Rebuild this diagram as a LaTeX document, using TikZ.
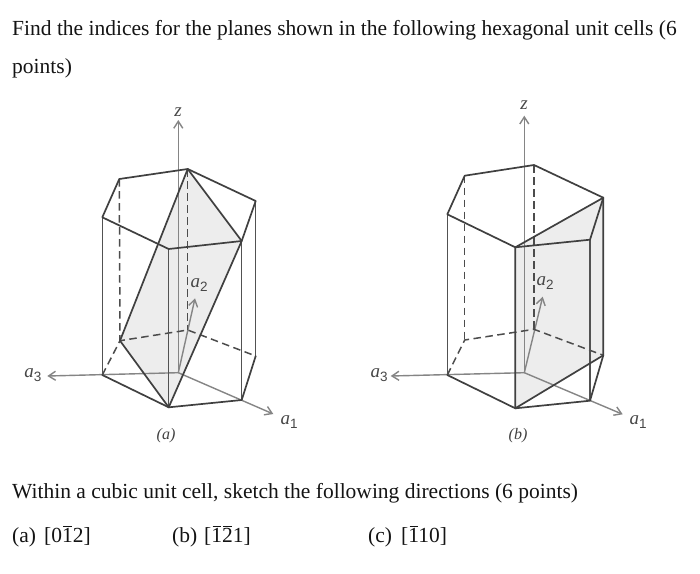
\documentclass[tikz,border=0pt]{standalone}
\usepackage{fontspec}
\setmainfont{Liberation Serif}
\newfontfamily\labsans{Liberation Sans}
\newcommand{\obar}[1]{\leavevmode\rlap{\kern1.2pt\raisebox{15.5pt}{\rule{8.4pt}{1pt}}}#1}
\newcommand{\axlab}[2]{{\itshape #1}\raisebox{-3.5pt}{\labsans\fontsize{13.5}{13.5}\selectfont #2}}
\usetikzlibrary{arrows.meta}
\tikzset{
  x=1pt,y=-1pt,
  edge/.style={draw=black!75,line width=1.7pt,line join=round,line cap=round},
  thin edge/.style={draw=black!68,line width=1.35pt},
  hidden/.style={draw=black!70,line width=1.5pt,dash pattern=on 7.5pt off 4.5pt},
  axis/.style={draw=black!48,line width=1.4pt,-{Straight Barb[length=7pt,width=9pt]}},
  plane/.style={fill=black!7},
  txt/.style={anchor=base west,inner sep=0pt,text=black!92,font=\fontsize{21.5}{21.5}\selectfont},
  lab/.style={inner sep=0pt,text=black!72,font=\fontsize{19}{19}\selectfont},
  cap lab/.style={inner sep=0pt,text=black!75,font=\fontsize{16}{16}\selectfont\itshape}
}
\begin{document}
\begin{tikzpicture}
\useasboundingbox (0,0) rectangle (700,573);
\fill[white] (0,0) rectangle (700,573);

% ---- text
\node[txt] (t1) at (12,35) {Find the indices for the planes shown in the following hexagonal unit cells (6};
\node[txt] (t2) at (12,73) {points)};
\node[txt] (t3) at (12,498) {Within a cubic unit cell, sketch the following directions (6 points)};
\node[txt] (qa) at (12,542) {(a)};
\node[txt] (da) at (44,542) {[0\obar{1}2]};
\node[txt] (qb) at (172,542) {(b)};
\node[txt] (db) at (204,542) {[\obar{1}\obar{2}1]};
\node[txt] (qc) at (368,542) {(c)};
\node[txt] (dc) at (401,542) {[\obar{1}10]};

% ---- cell (a)
\coordinate (At1) at (187.7,169);
\coordinate (At2) at (119.3,179);
\coordinate (At3) at (102.3,217.3);
\coordinate (At4) at (168.7,249);
\coordinate (At5) at (241.7,241);
\coordinate (At6) at (255.7,201);
\coordinate (Ab1) at (187.7,330);
\coordinate (Ab2) at (120,340.7);
\coordinate (Ab3) at (102.3,375);
\coordinate (Ab4) at (168.7,407.3);
\coordinate (Ab5) at (241.7,400);
\coordinate (Ab6) at (255.7,356);
\coordinate (AO) at (178.3,372.7);
\coordinate (Az) at (178.3,120);
\coordinate (Aa3) at (47.3,376);
\coordinate (Aa1) at (273.3,414);
\coordinate (Aa2) at (195,298.3);

\path[plane] (At1) -- (At5) -- (Ab4) -- (Ab2) -- cycle;
\draw[axis] (AO) -- (Az);
\draw[axis] (AO) -- (Aa3);
\draw[axis] (AO) -- (Aa1);
\draw[axis] (AO) -- (Aa2);
\draw[hidden] (At2) -- (Ab2);
\draw[hidden] (At1) -- (Ab1);
\draw[hidden] (Ab3) -- (Ab2) -- (Ab1) -- (Ab6);
\draw[thin edge] (At3) -- (Ab3);
\draw[thin edge] (At4) -- (Ab4);
\draw[thin edge] (At5) -- (Ab5);
\draw[thin edge] (At6) -- (Ab6);
\draw[edge] (At1) -- (At2) -- (At3) -- (At4) -- (At5) -- (At6) -- cycle;
\draw[edge] (Ab3) -- (Ab4) -- (Ab5) -- (Ab6);
\draw[edge] (At1) -- (At5) -- (Ab4) -- (Ab2) -- cycle;

\node[lab] (Lz) at (178,112) {\itshape z};
\node[lab] (L3) at (33,375) {\axlab{a}{3}};
\node[lab] (L1) at (289,422) {\axlab{a}{1}};
\node[lab] (L2) at (199,285) {\axlab{a}{2}};
\node[cap lab] (Lc) at (166,436) {(a)};

% ---- cell (b)
\coordinate (Bt1) at (534,165);
\coordinate (Bt2) at (464.7,175.7);
\coordinate (Bt3) at (447.3,214.3);
\coordinate (Bt4) at (515.3,247.3);
\coordinate (Bt5) at (590,239.7);
\coordinate (Bt6) at (603.3,197.7);
\coordinate (Bb1) at (534,329.3);
\coordinate (Bb2) at (464.7,340);
\coordinate (Bb3) at (447.3,375);
\coordinate (Bb4) at (515.3,408.3);
\coordinate (Bb5) at (590,400.7);
\coordinate (Bb6) at (603.3,355.3);
\coordinate (BO) at (524.3,372.7);
\coordinate (Bz) at (524.3,115.7);
\coordinate (Ba3) at (390.7,376);
\coordinate (Ba1) at (622.7,414.3);
\coordinate (Ba2) at (542.7,296.7);

\path[plane] (Bt4) -- (Bt6) -- (Bb6) -- (Bb4) -- cycle;
\draw[axis] (BO) -- (Bz);
\draw[axis] (BO) -- (Ba3);
\draw[axis] (BO) -- (Ba1);
\draw[axis] (BO) -- (Ba2);
\draw[hidden] (Bt2) -- (Bb2);
\draw[hidden] (Bt1) -- (Bb1);
\draw[hidden] (Bb3) -- (Bb2) -- (Bb1) -- (Bb6);
\draw[thin edge] (Bt3) -- (Bb3);
\draw[thin edge] (Bt4) -- (Bb4);
\draw[thin edge] (Bt5) -- (Bb5);
\draw[thin edge] (Bt6) -- (Bb6);
\draw[edge] (Bt1) -- (Bt2) -- (Bt3) -- (Bt4) -- (Bt5) -- (Bt6) -- cycle;
\draw[edge] (Bb3) -- (Bb4) -- (Bb5) -- (Bb6);
\draw[edge] (Bt4) -- (Bt6) -- (Bb6) -- (Bb4) -- cycle;

\node[lab] (Mz) at (524,105) {\itshape z};
\node[lab] (M3) at (379,375) {\axlab{a}{3}};
\node[lab] (M1) at (638,422) {\axlab{a}{1}};
\node[lab] (M2) at (545,283) {\axlab{a}{2}};
\node[cap lab] (Mc) at (518,436) {(b)};
\end{tikzpicture}
\end{document}
